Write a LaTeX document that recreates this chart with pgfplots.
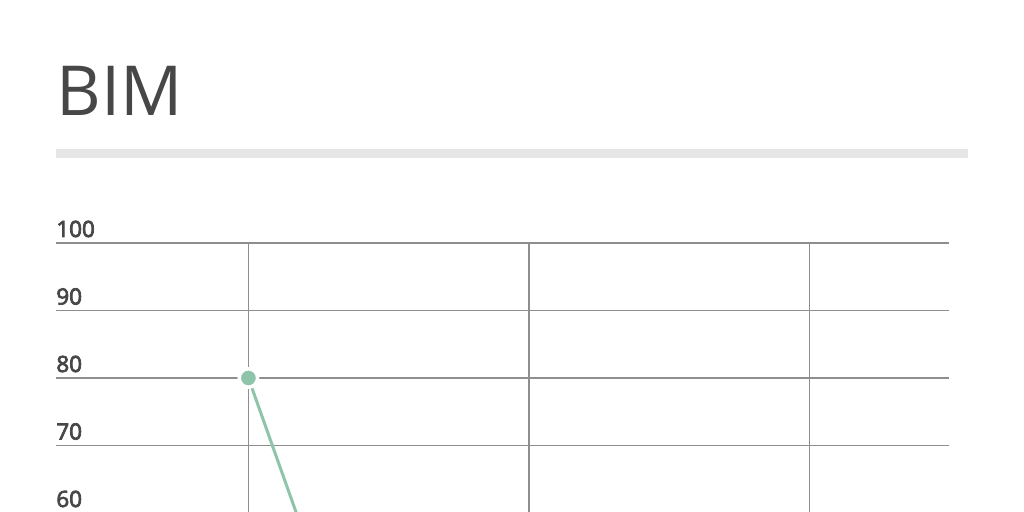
\documentclass[border=0pt]{standalone}
\usepackage{fontspec}
\setmainfont{Open Sans}
\newfontfamily\tickfont[FakeBold=3.5]{Open Sans}
\usepackage{pgfplots}
\pgfplotsset{compat=1.18}
\definecolor{titlegray}{HTML}{474747}
\definecolor{bargray}{HTML}{E6E6E6}
\definecolor{gridgray}{HTML}{8E8E8E}
\definecolor{bimgreen}{HTML}{8EC5AA}
\begin{document}
\begin{tikzpicture}
\path[use as bounding box, clip] (0,0) rectangle (512pt,256pt);
% title and rule
\node[anchor=base west, inner sep=0pt, text=titlegray, font=\fontsize{34.5}{40}\selectfont] at (28pt,198pt) {BIM};
\fill[bargray] (28pt,177pt) rectangle (484pt,181.5pt);
\begin{axis}[
  scale only axis,
  width=446.5pt, height=337.5pt,
  at={(28pt,-203pt)}, anchor=south west,
  xmin=-0.686, xmax=2.498,
  ymin=0, ymax=100,
  xtick={0,1,2}, xticklabels={},
  ytick={0,10,...,100},
  grid=major,
  major grid style={gridgray, line width=0.8pt},
  axis line style={draw=none},
  major tick length=0pt,
  /pgf/number format/assume math mode=true,
  yticklabel style={anchor=base west, inner sep=0pt, yshift=3pt,
    font=\tickfont\fontsize{11.2}{13}\selectfont, text=titlegray},
]
\addplot[bimgreen, line width=1.5pt,
  mark=*, mark size=4.6pt,
  mark options={fill=bimgreen, draw=white, line width=1.75pt}]
  coordinates {(0,80) (1,-37)};
\end{axis}
\end{tikzpicture}
\end{document}
